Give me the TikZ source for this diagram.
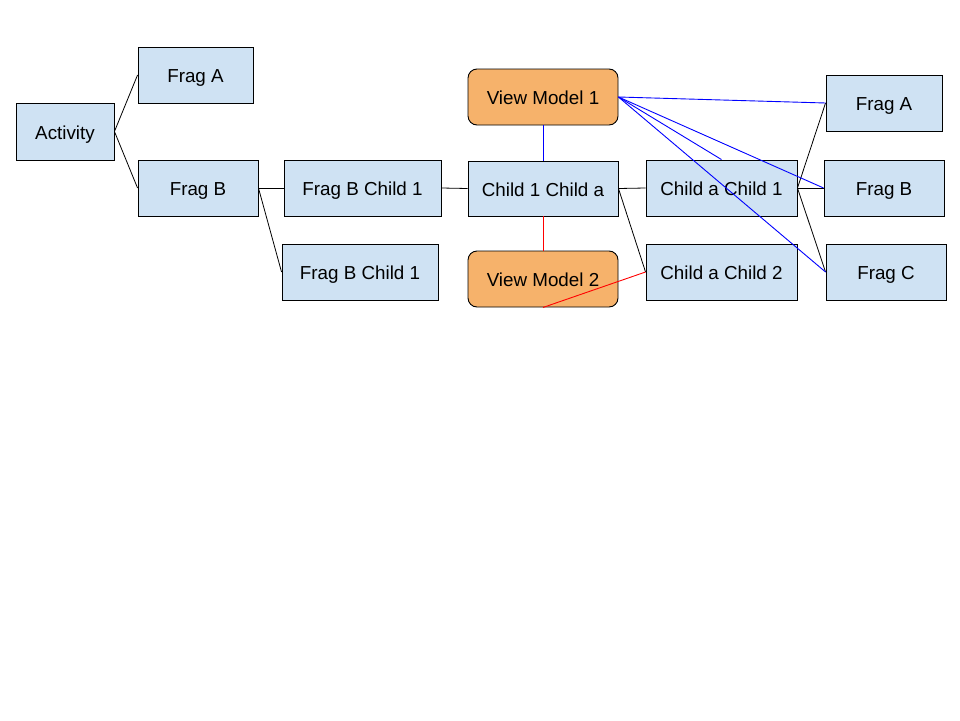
\documentclass[tikz,border=0pt]{standalone}
\usepackage{fontspec}
\setmainfont{Liberation Sans}
\definecolor{boxblue}{HTML}{CFE2F3}
\definecolor{vmorange}{HTML}{F6B26B}
\definecolor{linkblue}{HTML}{0000FF}
\definecolor{linkred}{HTML}{FF0000}
\begin{document}
\begin{tikzpicture}[x=1pt,y=-1pt,
  txt/.style={inner sep=0pt,text height=16pt,text depth=0.6pt,font=\fontsize{18.8}{22}\selectfont},
  bluebox/.style={txt,draw=black,fill=boxblue,line width=0.9pt},
  vmbox/.style={txt,draw=black,fill=vmorange,line width=0.9pt,rounded corners=9pt,minimum width=150pt,minimum height=56pt},
  blk/.style={draw=black,line width=0.8pt},
  blu/.style={draw=linkblue,line width=0.9pt},
  rd/.style={draw=linkred,line width=0.9pt}]
\path[fill=white] (0,0) rectangle (960,720);
\useasboundingbox (0,0) rectangle (960,720);
% nodes
\node[bluebox,minimum width=98pt,minimum height=57pt] (act) at (65,131.5) {Activity};
\node[bluebox,minimum width=115pt,minimum height=56pt] (fa) at (195.5,75) {Frag A};
\node[bluebox,minimum width=120pt,minimum height=56pt] (fb) at (198,188) {Frag B};
\node[bluebox,minimum width=157pt,minimum height=56pt] (fbc1) at (362.5,188) {Frag B Child 1};
\node[bluebox,minimum width=156pt,minimum height=56pt] (fbc2) at (360,272) {Frag B Child 1};
\node[bluebox,minimum width=150pt,minimum height=55pt] (c1ca) at (543,188.5) {Child 1 Child a};
\node[vmbox] (vm1) at (543,97) {View Model 1};
\node[vmbox] (vm2) at (543,279) {View Model 2};
\node[bluebox,minimum width=151pt,minimum height=56pt] (ca1) at (721.5,188) {Child a Child 1};
\node[bluebox,minimum width=151pt,minimum height=56pt] (ca2) at (721.5,272) {Child a Child 2};
\node[bluebox,minimum width=116pt,minimum height=56pt] (ra) at (884,103) {Frag A};
\node[bluebox,minimum width=120pt,minimum height=56pt] (rb) at (884,188) {Frag B};
\node[bluebox,minimum width=120pt,minimum height=56pt] (rc) at (886,272) {Frag C};
% black connectors
\draw[blk] (act.east) -- (fa.west);
\draw[blk] (act.east) -- (fb.west);
\draw[blk] (fb.east) -- (fbc1.west);
\draw[blk] (fb.east) -- (fbc2.west);
\draw[blk] (fbc1.east) -- (c1ca.west);
\draw[blk] (c1ca.east) -- (ca1.west);
\draw[blk] (c1ca.east) -- (ca2.west);
\draw[blk] (ca1.east) -- (ra.west);
\draw[blk] (ca1.east) -- (rb.west);
\draw[blk] (ca1.east) -- (rc.west);
% blue connectors
\draw[blu] (vm1.south) -- (c1ca.north);
\draw[blu] (vm1.east) -- (ra.west);
\draw[blu] (vm1.east) -- (rb.west);
\draw[blu] (vm1.east) -- (rc.west);
\draw[blu] (vm1.east) -- (ca1.north);
% red connectors
\draw[rd] (c1ca.south) -- (vm2.north);
\draw[rd] (vm2.south) -- (ca2.west);
\end{tikzpicture}
\end{document}
